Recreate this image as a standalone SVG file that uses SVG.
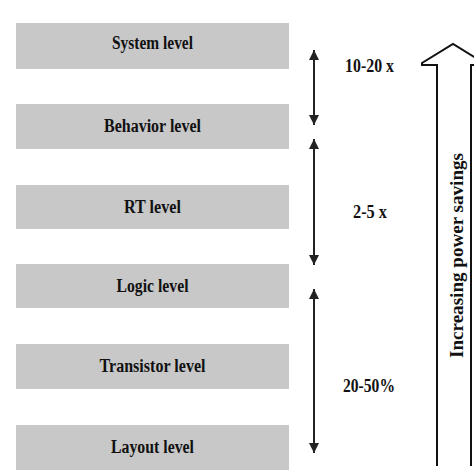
<svg xmlns="http://www.w3.org/2000/svg" width="474" height="474" viewBox="0 0 474 474">
<defs>
<style>
.box{fill:#c8c8c8;}
.lbl{font-family:"Liberation Serif","Times New Roman",serif;font-weight:bold;font-size:18px;fill:#111;text-anchor:middle;}
.con{stroke:#222;stroke-width:2;fill:none;}
</style>
<marker id="ah" viewBox="0 0 10 10" refX="10" refY="5" markerWidth="5" markerHeight="5" orient="auto-start-reverse" markerUnits="strokeWidth">
<path d="M0,0 L10,5 L0,10 z" fill="#222"/>
</marker>
</defs>
<rect width="474" height="474" fill="#fff"/>
<g id="system"><rect class="box" x="16" y="23" width="273" height="46"/><text class="lbl" x="152.5" y="49" textLength="81" lengthAdjust="spacingAndGlyphs">System level</text></g>
<g id="behavior"><rect class="box" x="16" y="104" width="273" height="45"/><text class="lbl" x="152.5" y="132" textLength="97" lengthAdjust="spacingAndGlyphs">Behavior level</text></g>
<g id="rt"><rect class="box" x="16" y="185" width="273" height="44"/><text class="lbl" x="152.5" y="213" textLength="57" lengthAdjust="spacingAndGlyphs">RT level</text></g>
<g id="logic"><rect class="box" x="16" y="264" width="273" height="44"/><text class="lbl" x="152.5" y="292" textLength="72" lengthAdjust="spacingAndGlyphs">Logic level</text></g>
<g id="transistor"><rect class="box" x="16" y="344" width="273" height="45"/><text class="lbl" x="152.5" y="372" textLength="106" lengthAdjust="spacingAndGlyphs">Transistor level</text></g>
<g id="layout"><rect class="box" x="16" y="425" width="273" height="45"/><text class="lbl" x="152.5" y="453" textLength="83" lengthAdjust="spacingAndGlyphs">Layout level</text></g>
<g id="connectors">
<line class="con" x1="314" y1="50" x2="314" y2="125" marker-start="url(#ah)" marker-end="url(#ah)"/>
<line class="con" x1="314" y1="139" x2="314" y2="265" marker-start="url(#ah)" marker-end="url(#ah)"/>
<line class="con" x1="314" y1="289" x2="314" y2="453" marker-start="url(#ah)" marker-end="url(#ah)"/>
</g>
<g id="factors">
<text class="lbl" x="369.5" y="72" textLength="49" lengthAdjust="spacingAndGlyphs">10-20 x</text>
<text class="lbl" x="370" y="218" textLength="34" lengthAdjust="spacingAndGlyphs">2-5 x</text>
<text class="lbl" x="369" y="392" textLength="52" lengthAdjust="spacingAndGlyphs">20-50%</text>
</g>
<g id="power-arrow">
<path d="M437,466 L437,65 L422,65 L422,63 L453,44 L484,63 L484,65 L471,65 L471,466" fill="#fff" stroke="#111" stroke-width="2" stroke-linejoin="miter"/>
<text class="lbl" transform="translate(463,255.5) rotate(-90)" x="0" y="0" textLength="205" lengthAdjust="spacingAndGlyphs">Increasing power savings</text>
</g>
</svg>
